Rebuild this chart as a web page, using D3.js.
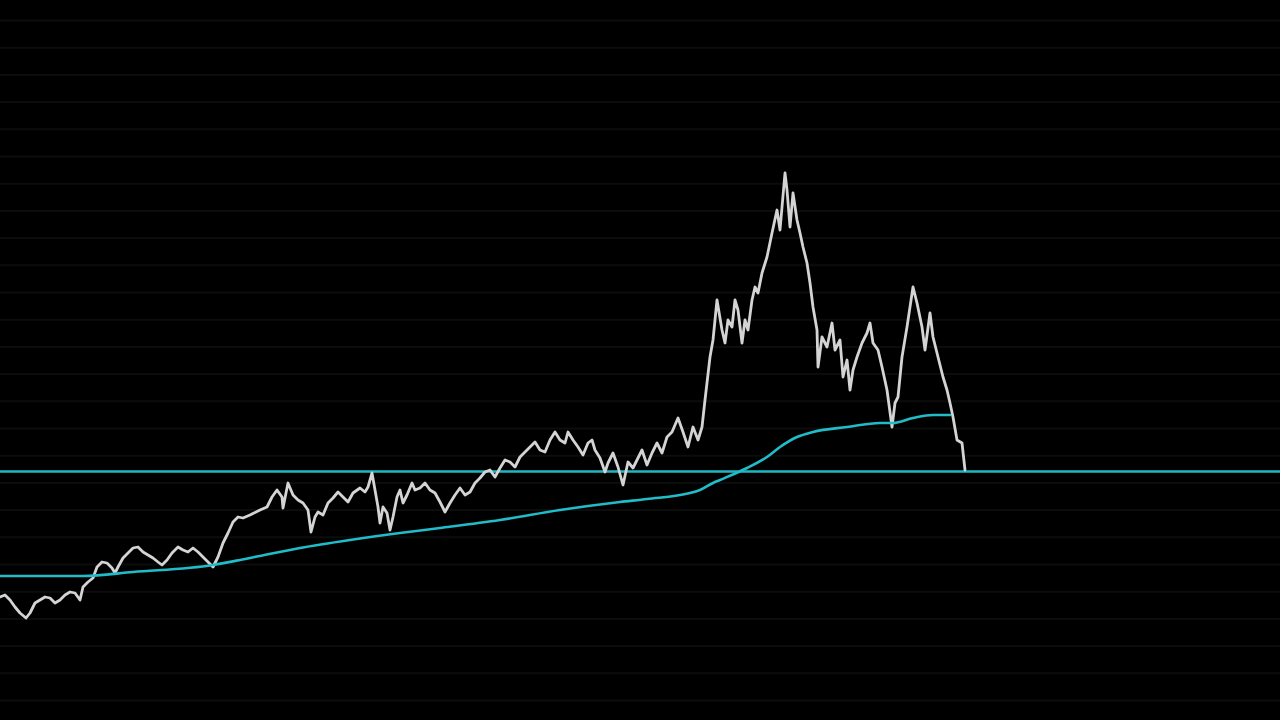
<!DOCTYPE html>
<html>
<head>
<meta charset="utf-8">
<script src="https://cdn.jsdelivr.net/npm/d3@7"></script>
<style>
  html, body { margin: 0; padding: 0; background: #000; }
  svg { display: block; }
</style>
</head>
<body>
<svg id="chart" width="1280" height="720"></svg>
<script>
// ---- data (day index, price) ----
const priceSeries = [
  [0,103],[2.5,105],[5,100],[7.5,93],[10,87],[13,82],[15,87],[17.5,97],[20,100],[22.5,103],
  [25,102],[27.5,97],[30,100],[32.5,105],[35,108],[37.5,107],[40,100],[41.5,113],[44,118],[46.5,122],
  [48.5,133],[51,138],[53.5,137],[56,132],[57.5,127],[59,133],[61.5,142],[64,147],[66.5,152],[69,153],
  [71.5,148],[74,145],[76.5,142],[79,138],[81,135],[83.5,140],[86,147],[89,153],[91.5,150],[94,148],
  [96.5,152],[99,148],[101.5,143],[104,138],[106.5,133],[109,143],[111.5,157],[114,167],[116.5,178],[119,183],
  [121.5,182],[125,185],[130,190],[133.5,193],[136,203],[138.5,210],[141,203],[141.5,192],[144,217],[146.5,205],
  [149,200],[151.5,197],[154,190],[155.5,168],[157.5,183],[159,188],[161.5,185],[164,197],[166.5,202],[169,208],
  [171.5,203],[174,198],[176.5,207],[180,212],[182.5,208],[184,213],[186,227],[187.5,210],[189,193],[190,177],
  [191.5,193],[193.5,187],[195,170],[196.5,183],[198.5,203],[200,210],[201.5,197],[203.5,205],[206,217],[207.5,210],
  [210,212],[212.5,217],[215,210],[217.5,207],[220,198],[222.5,188],[225,197],[227.5,205],[230,212],[232.5,205],
  [235,208],[237.5,217],
  [240,222],[242.5,228],[245,230],[247.5,223],[250,232],[252.5,240],[255,238],[257.5,233],[260,243],[262.5,248],
  [265,253],[267.5,258],[270,250],[272.5,248],[275,260],[277.5,268],[280,260],[282.5,257],[284,268],[286.5,260],
  [289,253],[291.5,245],[294,257],[296,260],[297.5,250],[300,242],[302.5,228],[304,237],[306.5,247],[309,233],
  [311.5,215],[314,238],[316.5,232],[319,242],[321,250],[323.5,235],[326,247],[328.5,257],[331,247],[333.5,263],
  [336,268],[339,282],[341.5,268],[344,253],[346.5,273],[349,260],[351,273],[352.5,300],[355,343],[356.5,360],
  [358.5,400],[361,370],[362.5,357],[364,380],[366,373],[367.5,400],[369,390],[371,357],[372.5,380],[374,370],
  [376,400],[377.5,413],[379,407],[381,427],[383.5,443],[386,467],[388.5,490],[390,470],[392.5,527],[393.5,510],
  [395,473],[396.5,507],[398.5,480],[400,467],[401.5,453],[403.5,437],[405,417],[406.5,393],[408.5,370],[409,333],
  [411,363],[413.5,353],[416,377],[417.5,350],[420,360],[421.5,323],[423.5,340],[425,310],[426.5,330],[428.5,343],
  [431,357],[433.5,367],[435,377],[436.5,357],[439,350],[441,333],[443.5,310],[446,273],[447.5,297],[449,303],
  [451,343],[453.5,373],[455,393],[456.5,413],[458.5,397],[461,373],[462.5,350],[465,387],[466.5,363],[469,343],
  [471.5,323],[473.5,310],[475,297],[476.5,283],[478.5,260],[481,257],[482.5,230]
];

const maSeries = [
  [0,124],[20,124],[41.5,124],[66.5,128],[106.5,135],[120,140],[125,142],[150,152],[175,160],[200,167],
  [220,172],[250,180],[280,190],[310,198],[323.5,201],[345,207],[350,210],[356.5,217],[360,220],[373.5,232],
  [383.5,243],[390,253],[398.5,263],[406.5,268],[423.5,273],[440,277],[446.5,277],[456.5,282],[466.5,285],[475,285]
];

const levelPrice = 228.5;
const gridStep = 27.2;
const gridTicks = d3.range(0, 681, gridStep);

// ---- chart ----
const W = 1280, H = 720;
const svg = d3.select("#chart");
svg.append("rect").attr("width", W).attr("height", H).attr("fill", "#000");

const defs = svg.append("defs");
defs.append("filter").attr("id", "soft")
  .attr("filterUnits", "userSpaceOnUse")
  .attr("x", 0).attr("y", 0).attr("width", W).attr("height", H)
  .append("feGaussianBlur").attr("stdDeviation", 0.55);

const x = d3.scaleLinear().domain([0, 640]).range([0, W]);
const y = d3.scaleLinear().domain([0, 700]).range([700, 0]);

// faint horizontal gridlines via axis
const grid = svg.append("g")
  .call(d3.axisLeft(y).tickValues(gridTicks).tickSize(-W).tickFormat(""));
grid.select(".domain").remove();
grid.selectAll(".tick line").attr("stroke", "#0c0c0c").attr("stroke-width", 2);

// horizontal level line
svg.append("line")
  .attr("x1", 0).attr("x2", W)
  .attr("y1", y(levelPrice)).attr("y2", y(levelPrice))
  .attr("stroke", "#1fb7c3").attr("stroke-width", 2.4)
  .attr("filter", "url(#soft)");

// price line
const priceLine = d3.line().x(d => x(d[0])).y(d => y(d[1]));
svg.append("path")
  .datum(priceSeries)
  .attr("d", priceLine)
  .attr("fill", "none")
  .attr("stroke", "#d4d4d4")
  .attr("stroke-width", 2.8)
  .attr("stroke-linejoin", "round")
  .attr("stroke-linecap", "round")
  .attr("filter", "url(#soft)");

// moving average
const maLine = d3.line().x(d => x(d[0])).y(d => y(d[1])).curve(d3.curveMonotoneX);
svg.append("path")
  .datum(maSeries)
  .attr("d", maLine)
  .attr("fill", "none")
  .attr("stroke", "#20bcc8")
  .attr("stroke-width", 2.6)
  .attr("stroke-linecap", "round")
  .attr("filter", "url(#soft)");
</script>
</body>
</html>
